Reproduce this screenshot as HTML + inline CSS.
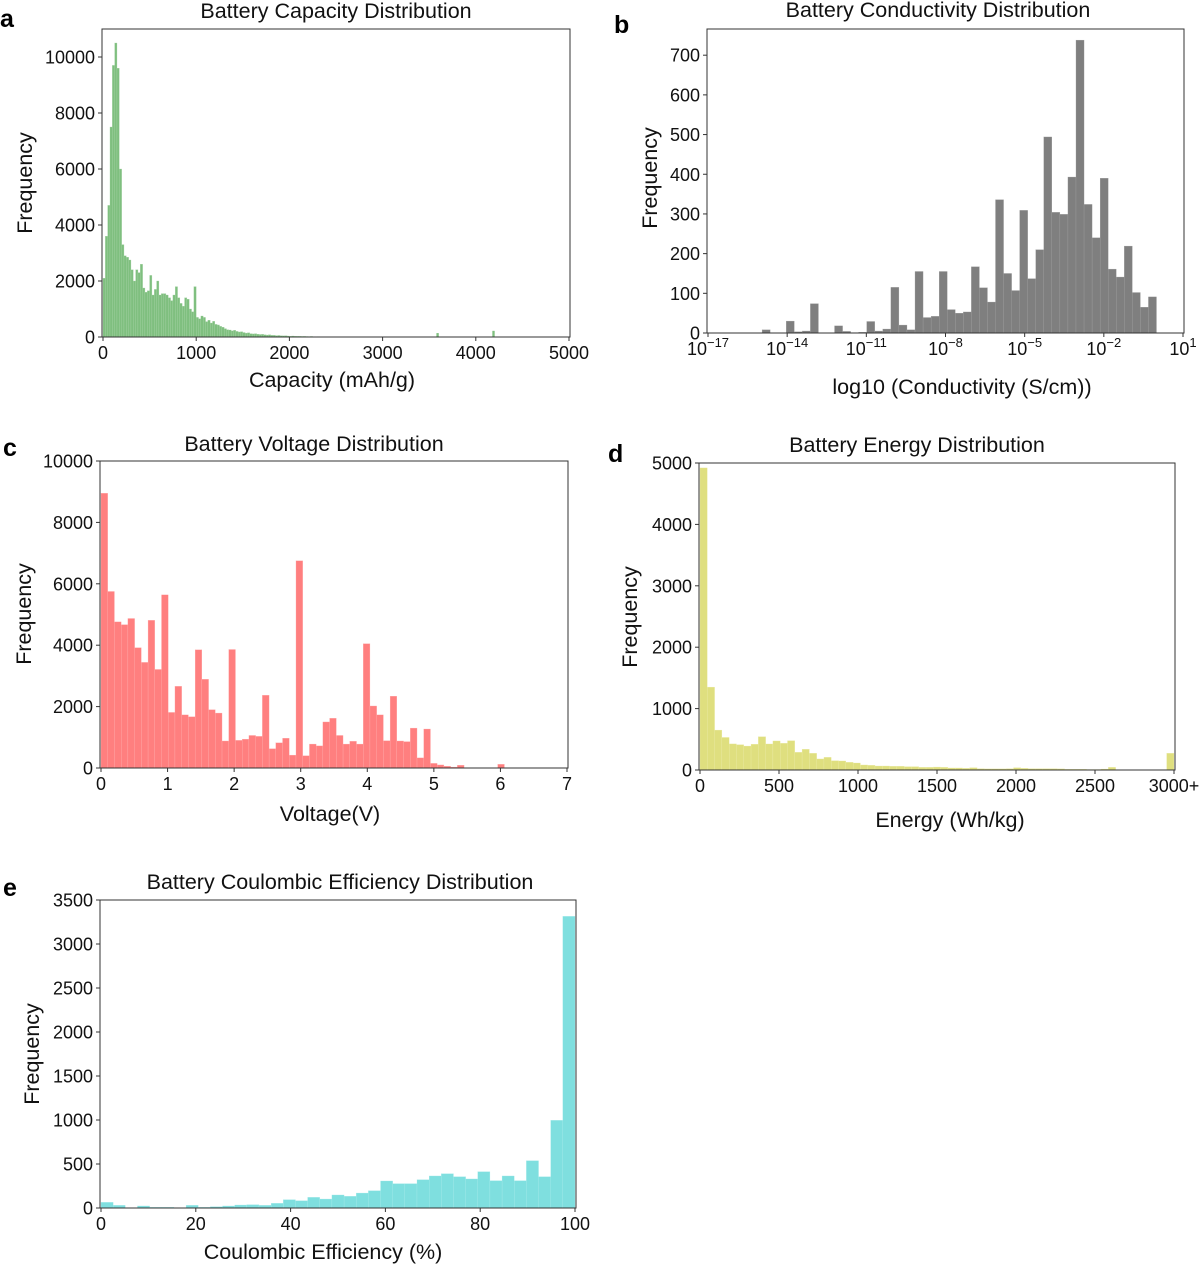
<!DOCTYPE html>
<html><head><meta charset="utf-8"><style>
html,body{margin:0;padding:0;background:#fff;}
svg{display:block;font-family:"Liberation Sans",Arial,sans-serif;}
</style></head><body>
<svg id="fig" width="1200" height="1265" viewBox="0 0 1200 1265" xmlns="http://www.w3.org/2000/svg"></svg>
<script>
// ---- Panel a: capacity (bin width 25 mAh/g starting at 0)
const capacityBinStart = 0;
const capacityBinWidth = 25;
const capacityCounts = [2100,3600,4700,7500,9700,10500,9600,6000,3300,2900,2850,2750,2400,2000,2400,2300,2600,1750,1600,1650,2200,1500,1700,2000,1500,1550,1550,1500,1400,1300,1500,1800,1400,1200,1100,1400,1350,1000,900,1800,700,650,750,700,550,600,500,560,450,430,380,350,300,260,250,220,240,200,180,190,160,140,150,120,110,120,100,90,95,80,70,80,60,60,50,55,45,40,45,35,30,35,30,25,25,20,22,18,15,20,12,10,14,10,8,10,7,6,8,5,6,4,5,4];
const capacityOutlierX = [3590,4190];
const capacityOutlierCounts = [140,220];
const capacityXTicks = [0,1000,2000,3000,4000,5000];
const capacityYTicks = [0,2000,4000,6000,8000,10000];

// ---- Panel b: conductivity (log10 bins)
const condBinStart = -14.95;
const condBinWidth = 0.305;
const condCounts = [8,0,0,30,3,5,74,0,0,18,4,1,2,29,5,10,115,20,8,155,39,42,155,59,50,53,167,114,78,336,150,107,309,137,210,494,304,299,393,738,324,240,390,161,141,219,102,65,91];
const condXTicks = [-17,-14,-11,-8,-5,-2,1];
const condYTicks = [0,100,200,300,400,500,600,700];

// ---- Panel c: voltage
const voltBinStart = 0;
const voltBinWidth = 0.101;
const voltCounts = [8950,5750,4760,4670,4870,3920,3440,4810,3210,5640,1810,2660,1730,1670,3850,2890,1900,1790,880,3860,900,940,1060,1030,2370,630,820,970,420,6750,400,780,720,1500,1620,1060,780,870,780,4050,2020,1730,890,2340,880,860,1300,330,1270,150,100,60,30,90,10,5,5,5,0,120];
const voltXTicks = [0,1,2,3,4,5,6,7];
const voltYTicks = [0,2000,4000,6000,8000,10000];

// ---- Panel d: energy
const energyBinStart = 0;
const energyBinWidth = 46.15;
const energyCounts = [4920,1350,650,530,425,413,390,420,543,424,473,435,478,288,337,272,180,206,152,147,125,114,82,76,65,65,60,60,55,55,43,43,48,43,33,33,27,38,22,18,18,18,22,38,27,22,22,22,22,18,12,12,12,8,8,15,43,3,3,3,3,3,3,3,272];
const energyXTicks = [0,500,1000,1500,2000,2500,3000];
const energyXLabels = ["0","500","1000","1500","2000","2500","3000+"];
const energyYTicks = [0,1000,2000,3000,4000,5000];

// ---- Panel e: coulombic efficiency
const ceBinStart = 0;
const ceBinWidth = 100/39;
const ceCounts = [64,30,4,23,8,8,4,30,8,15,23,34,38,30,53,95,83,121,102,148,133,170,197,307,277,277,322,364,390,356,330,413,311,364,311,538,356,996,3314];
const ceXTicks = [0,20,40,60,80,100];
const ceYTicks = [0,500,1000,1500,2000,2500,3000,3500];

const NS = "http://www.w3.org/2000/svg";
const svg = document.getElementById('fig');
function el(tag, attrs, parent, text){
  const e = document.createElementNS(NS, tag);
  for (const k in attrs) e.setAttribute(k, attrs[k]);
  if (text !== undefined) e.textContent = text;
  (parent||svg).appendChild(e);
  return e;
}
function lin(d0,d1,r0,r1){ return v => r0 + (v-d0)/(d1-d0)*(r1-r0); }

function panel(cfg){
  const g = el('g', {});
  
  
  const X = lin(cfg.xd[0], cfg.xd[1], cfg.L, cfg.R);
  const Y = lin(0, cfg.ymax, cfg.B, cfg.T);
  const bars = el('g', {}, g);
  
  
  cfg.counts.forEach((v,i)=>{
    const x0 = cfg.start + i*cfg.width;
    const r = el('rect', {x:X(x0), y:Y(v), width:Math.max(0.5, X(x0+cfg.width)-X(x0)), height:Math.max(0, Y(0)-Y(v)), fill:cfg.color, stroke:cfg.edge, 'stroke-width':0.3}, bars);
    
    
  });
  if (cfg.extraX) cfg.extraX.forEach((c,i)=>{
    const v = cfg.extraY[i];
    const x0 = c - cfg.width/2;
    const r = el('rect', {x:X(x0), y:Y(v), width:X(x0+cfg.width)-X(x0), height:Y(0)-Y(v), fill:cfg.color}, bars);
    
    
  });
  const f = el('rect', {x:cfg.L-1, y:cfg.T, width:cfg.R-cfg.L+2, height:cfg.B-cfg.T, fill:'none', stroke:'#333', 'stroke-width':1}, g);
  
  
  const xa = el('g', {}, g);
  
  
  cfg.xticks.forEach((t,i)=>{
    const x = X(t);
    el('line', {x1:x, x2:x, y1:cfg.B, y2:cfg.B+4, stroke:'#333', 'stroke-width':1}, xa);
    const tx = el('text', {x:x, y:cfg.B+22, 'font-size':18, 'text-anchor':'middle', fill:'#111'}, xa);
    
    
    if (cfg.log){
      el('tspan', {}, tx, '10');
      el('tspan', {dy:-8, 'font-size':13}, tx, (t<0?'\u2212':'') + Math.abs(t));
    } else {
      tx.textContent = cfg.xlabels ? cfg.xlabels[i] : String(t);
    }
  });
  const ya = el('g', {}, g);
  
  
  cfg.yticks.forEach(t=>{
    const y = Y(t);
    el('line', {x1:cfg.L-5, x2:cfg.L-1, y1:y, y2:y, stroke:'#333', 'stroke-width':1}, ya);
    const tx = el('text', {x:cfg.L-8, y:y+6.5, 'font-size':18, 'text-anchor':'end', fill:'#111'}, ya, String(t));
    
    
  });
  const tt = el('text', {x:cfg.titleX, y:cfg.titleY, 'font-size':21.5, 'text-anchor':'middle', fill:'#111'}, g, cfg.title);
  
  
  const xl = el('text', {x:cfg.xlX, y:cfg.xlY, 'font-size':21.5, 'text-anchor':'middle', fill:'#111'}, g, cfg.xlabel);
  
  
  const yl = el('text', {x:0, y:0, 'font-size':21.5, 'text-anchor':'middle', fill:'#111', transform:`translate(${cfg.ylX},${cfg.ylY}) rotate(-90)`}, g, 'Frequency');
  
  
  const lt = el('text', {x:cfg.letter[0], y:cfg.letter[1], 'font-size':25, 'font-weight':'bold', fill:'#000'}, g, cfg.letterText);
  
  
}

panel({name:'capacity-panel', L:103, R:569, T:29, B:337, xd:[0,5000], ymax:11000,
  start:capacityBinStart, width:capacityBinWidth, counts:capacityCounts, extraX:capacityOutlierX, extraY:capacityOutlierCounts,
  color:'#7fbf7f', edge:'#a8d4a8', xticks:capacityXTicks, yticks:capacityYTicks,
  title:'Battery Capacity Distribution', titleX:336, titleY:18, xlabel:'Capacity (mAh/g)', xlX:332, xlY:387,
  ylX:32, ylY:183, letter:[0,27], letterText:'a'});

panel({name:'conductivity-panel', L:708, R:1183, T:29, B:333, xd:[-17,1], ymax:766, log:true,
  start:condBinStart, width:condBinWidth, counts:condCounts,
  color:'#7f7f7f', edge:'#a0a0a0', xticks:condXTicks, yticks:condYTicks,
  title:'Battery Conductivity Distribution', titleX:938, titleY:17, xlabel:'log10 (Conductivity (S/cm))', xlX:962, xlY:394,
  ylX:657, ylY:178, letter:[614,33], letterText:'b'});

panel({name:'voltage-panel', L:101, R:567, T:461, B:768, xd:[0,7], ymax:10000,
  start:voltBinStart, width:voltBinWidth, counts:voltCounts,
  color:'#ff7f7f', edge:'#ffb0b0', xticks:voltXTicks, yticks:voltYTicks,
  title:'Battery Voltage Distribution', titleX:314, titleY:451, xlabel:'Voltage(V)', xlX:330, xlY:821,
  ylX:31, ylY:614, letter:[3,456], letterText:'c'});

panel({name:'energy-panel', L:700, R:1174, T:463, B:770, xd:[0,3000], ymax:5000,
  start:energyBinStart, width:energyBinWidth, counts:energyCounts,
  color:'#dfdf7f', edge:'#ebeba8', xticks:energyXTicks, xlabels:energyXLabels, yticks:energyYTicks,
  title:'Battery Energy Distribution', titleX:917, titleY:452, xlabel:'Energy (Wh/kg)', xlX:950, xlY:827,
  ylX:637, ylY:617, letter:[608,462], letterText:'d'});

panel({name:'coulombic-efficiency-panel', L:101, R:575, T:900, B:1208, xd:[0,100], ymax:3500,
  start:ceBinStart, width:ceBinWidth, counts:ceCounts,
  color:'#7fdfdf', edge:'#a8ebeb', xticks:ceXTicks, yticks:ceYTicks,
  title:'Battery Coulombic Efficiency Distribution', titleX:340, titleY:889, xlabel:'Coulombic Efficiency (%)', xlX:323, xlY:1259,
  ylX:39, ylY:1054, letter:[3,896], letterText:'e'});
</script>
</body></html>
